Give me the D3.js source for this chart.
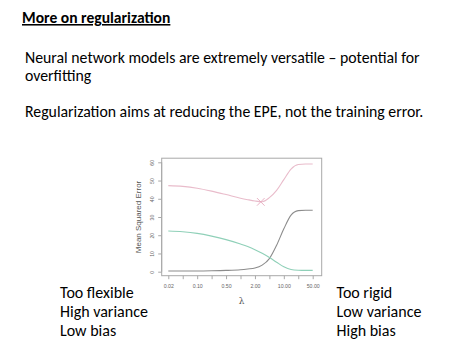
<!DOCTYPE html>
<html>
<head>
<meta charset="utf-8">
<script src="https://cdn.jsdelivr.net/npm/d3@7"></script>
<style>
  html, body { margin: 0; padding: 0; background: #fff; }
  svg { display: block; }
</style>
</head>
<body>
<svg id="chart" width="474" height="355"></svg>
<script>
// ---- data ----
const lambda   = [0.02, 0.0437, 0.0956, 0.2091, 0.4573, 1.0, 1.479, 2.187, 3.234, 4.782, 7.071, 10.46, 15.46, 22.87, 33.81, 50];
const testMSE  = [47.2, 46.8, 45.8, 44.2, 42.3, 40.3, 39.5, 38.8, 38.4, 40.6, 44.6, 50.5, 56.3, 58.8, 59.1, 59.1];
const bias2    = [0.4, 0.4, 0.4, 0.5, 0.7, 1.1, 1.5, 2.0, 3.6, 7.2, 14.5, 23.5, 31.0, 33.5, 33.7, 33.7];
const variance = [22.3, 21.9, 21.0, 19.5, 17.6, 15.2, 13.8, 12.1, 10.1, 7.8, 5.2, 2.7, 1.2, 0.8, 0.7, 0.7];
const minPoint = { lambda: 3.0, mse: 38.3 };
const xTickValues = [0.02, 0.0437, 0.0956, 0.2091, 0.4573, 1.0, 2.187, 4.782, 10.46, 22.87, 50];
const xTickLabels = ["0.02", "", "0.10", "", "0.50", "", "2.00", "", "10.00", "", "50.00"];
const yTickValues = [0, 10, 20, 30, 40, 50, 60];

const titleText = "More on regularization";
const bodyLines = [
  "Neural network models are extremely versatile \u2013 potential for",
  "overfitting",
  "",
  "Regularization aims at reducing the EPE, not the training error."
];
const leftNotes  = ["Too flexible", "High variance", "Low bias"];
const rightNotes = ["Too rigid", "Low variance", "High bias"];

// ---- layout ----
const svg = d3.select("#chart");
const textFont = "Carlito, Lato, 'Open Sans', sans-serif";

svg.append("text")
  .attr("x", 22).attr("y", 23)
  .attr("font-family", textFont).attr("font-weight", "bold").attr("font-size", 15.6)
  .attr("text-decoration", "underline")
  .attr("fill", "#000")
  .text(titleText);

const bodyBaselines = [62.7, 80.5, 98, 116.5];
bodyLines.forEach((s, i) => {
  if (!s) return;
  svg.append("text")
    .attr("x", 25).attr("y", bodyBaselines[i])
    .attr("font-family", textFont).attr("font-size", 15.8)
    .attr("fill", "#000").text(s);
});

const noteBaselines = [297.5, 316.5, 335.5];
leftNotes.forEach((s, i) => {
  svg.append("text").attr("x", 60).attr("y", noteBaselines[i])
    .attr("font-family", textFont).attr("font-size", 16).attr("fill", "#000").text(s);
});
rightNotes.forEach((s, i) => {
  svg.append("text").attr("x", 336.5).attr("y", noteBaselines[i])
    .attr("font-family", textFont).attr("font-size", 16).attr("fill", "#000").text(s);
});

// ---- plot ----
const box = { left: 161.7, right: 321.7, top: 158.2, bottom: 275.7 };
const x = d3.scaleLog().domain([0.02, 50]).range([168.3, 312.7]);
const y = d3.scaleLinear().domain([0, 60]).range([271.7, 162.3]);
const axisColor = "#a8a8a8";
const tickFont = "'Liberation Sans', Arial, sans-serif";

svg.append("rect")
  .attr("x", box.left).attr("y", box.top)
  .attr("width", box.right - box.left).attr("height", box.bottom - box.top)
  .attr("fill", "none").attr("stroke", axisColor).attr("stroke-width", 1);

// x axis
const xAxis = d3.axisBottom(x)
  .tickValues(xTickValues)
  .tickFormat((d, i) => xTickLabels[i])
  .tickSize(3.5).tickPadding(5);
const gx = svg.append("g").attr("transform", `translate(0,${box.bottom})`).call(xAxis);
gx.select(".domain").remove();
gx.selectAll(".tick line").attr("stroke", axisColor);
gx.selectAll(".tick text").attr("font-family", tickFont).attr("font-size", 5.2).attr("fill", "#666");

// y axis
const yAxis = d3.axisLeft(y).tickValues(yTickValues).tickSize(3.5).tickFormat(d3.format("d"));
const gy = svg.append("g").attr("transform", `translate(${box.left},0)`).call(yAxis);
gy.select(".domain").attr("stroke", axisColor).attr("d", `M-0,${y(0)}V${y(60)}`);
gy.selectAll(".tick line").attr("stroke", axisColor);
gy.selectAll(".tick text")
  .attr("font-family", tickFont).attr("font-size", 5.2).attr("fill", "#666")
  .attr("x", null).attr("dy", null)
  .attr("text-anchor", "middle")
  .attr("transform", "translate(-8,0) rotate(-90)");

// axis titles
svg.append("text")
  .attr("transform", `translate(140.5,${(y(0) + y(60)) / 2}) rotate(-90)`)
  .attr("text-anchor", "middle")
  .attr("font-family", tickFont).attr("font-size", 8).attr("fill", "#555")
  .text("Mean Squared Error");
svg.append("text")
  .attr("x", (box.left + box.right) / 2).attr("y", 304)
  .attr("text-anchor", "middle")
  .attr("font-family", "'DejaVu Serif', serif").attr("font-size", 9).attr("fill", "#555")
  .text("\u03bb");

// curves
const line = vals => d3.line()
  .x((d, i) => x(lambda[i]))
  .y(d => y(d))
  .curve(d3.curveMonotoneX)(vals);

svg.append("path").attr("d", line(bias2)).attr("fill", "none")
  .attr("stroke", "#8c8c8c").attr("stroke-width", 1.1);
svg.append("path").attr("d", line(variance)).attr("fill", "none")
  .attr("stroke", "#8fd0b8").attr("stroke-width", 1.1);
svg.append("path").attr("d", line(testMSE)).attr("fill", "none")
  .attr("stroke", "#e9bccb").attr("stroke-width", 1.1);

svg.append("path")
  .attr("d", d3.symbol().type(d3.symbolTimes).size(40)())
  .attr("transform", `translate(${x(minPoint.lambda)},${y(minPoint.mse)})`)
  .attr("fill", "none").attr("stroke", "#e6a9bd").attr("stroke-width", 0.9);
</script>
</body>
</html>
